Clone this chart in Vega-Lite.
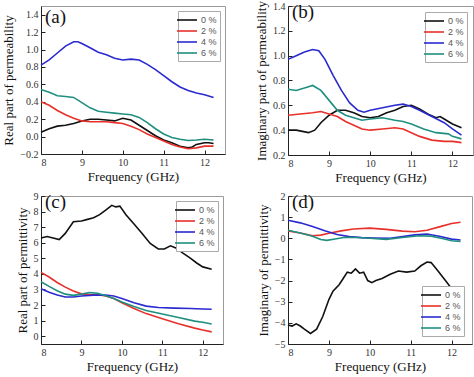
{
  "$schema": "https://vega.github.io/schema/vega-lite/v6.json",
  "padding": {"left": 2, "top": 0, "right": 0, "bottom": 0},
  "background": "white",
  "columns": 2,
  "spacing": {"column": 63, "row": 41},
  "bounds": "flush",
  "config": {
    "view": {"stroke": "#9a9a9a", "strokeWidth": 1},
    "axis": {
      "grid": false,
      "domainColor": "#222",
      "tickColor": "#222",
      "tickSize": -4,
      "labelOverlap": false,
      "labelFont": "Liberation Serif",
      "labelFontSize": 10,
      "labelColor": "#333",
      "labelPadding": 7,
      "titleFont": "Liberation Serif",
      "titleFontSize": 13,
      "titleFontWeight": "normal",
      "titleColor": "#111"
    },
    "axisX": {"titlePadding": 3},
    "axisY": {"titlePadding": 4},
    "title": {"font": "Liberation Serif", "fontSize": 19, "fontWeight": "normal", "color": "#111", "anchor": "start", "orient": "top", "frame": "group", "offset": -21, "dx": 4},
    "legend": {
      "symbolType": "M-2,0H2",
      "symbolSize": 100,
      "symbolStrokeWidth": 1.8,
      "symbolFillColor": "transparent",
      "labelFont": "Liberation Sans",
      "labelFontSize": 9,
      "labelColor": "#555",
      "strokeColor": "#aaaaaa",
      "padding": 3,
      "rowPadding": 0,
      "labelOffset": 8,
      "title": null,
      "fillColor": "white"
    },
    "line": {"strokeWidth": 1.6}
  },
  "resolve": {"scale": {"color": "independent"}, "legend": {"color": "independent"}},
  "datasets": {
    "a": [
      {"f": 8.0, "v": 0.05, "s": "0 %"}, {"f": 8.2, "v": 0.09, "s": "0 %"}, {"f": 8.4, "v": 0.12, "s": "0 %"}, {"f": 8.6, "v": 0.13, "s": "0 %"}, {"f": 8.8, "v": 0.15, "s": "0 %"}, {"f": 9.0, "v": 0.18, "s": "0 %"}, {"f": 9.2, "v": 0.2, "s": "0 %"}, {"f": 9.4, "v": 0.2, "s": "0 %"}, {"f": 9.6, "v": 0.19, "s": "0 %"}, {"f": 9.8, "v": 0.18, "s": "0 %"}, {"f": 10.0, "v": 0.21, "s": "0 %"}, {"f": 10.2, "v": 0.19, "s": "0 %"}, {"f": 10.4, "v": 0.13, "s": "0 %"}, {"f": 10.6, "v": 0.07, "s": "0 %"}, {"f": 10.8, "v": 0.01, "s": "0 %"}, {"f": 11.0, "v": -0.04, "s": "0 %"}, {"f": 11.2, "v": -0.07, "s": "0 %"}, {"f": 11.4, "v": -0.11, "s": "0 %"}, {"f": 11.6, "v": -0.13, "s": "0 %"}, {"f": 11.7, "v": -0.12, "s": "0 %"}, {"f": 11.8, "v": -0.09, "s": "0 %"}, {"f": 12.0, "v": -0.07, "s": "0 %"}, {"f": 12.1, "v": -0.07, "s": "0 %"}, {"f": 12.22, "v": -0.08, "s": "0 %"},
      {"f": 8.0, "v": 0.4, "s": "2 %"}, {"f": 8.2, "v": 0.36, "s": "2 %"}, {"f": 8.4, "v": 0.3, "s": "2 %"}, {"f": 8.6, "v": 0.25, "s": "2 %"}, {"f": 8.8, "v": 0.21, "s": "2 %"}, {"f": 9.0, "v": 0.18, "s": "2 %"}, {"f": 9.2, "v": 0.17, "s": "2 %"}, {"f": 9.4, "v": 0.17, "s": "2 %"}, {"f": 9.6, "v": 0.17, "s": "2 %"}, {"f": 9.8, "v": 0.16, "s": "2 %"}, {"f": 10.0, "v": 0.15, "s": "2 %"}, {"f": 10.2, "v": 0.12, "s": "2 %"}, {"f": 10.4, "v": 0.08, "s": "2 %"}, {"f": 10.6, "v": 0.03, "s": "2 %"}, {"f": 10.8, "v": -0.01, "s": "2 %"}, {"f": 11.0, "v": -0.05, "s": "2 %"}, {"f": 11.2, "v": -0.09, "s": "2 %"}, {"f": 11.4, "v": -0.12, "s": "2 %"}, {"f": 11.6, "v": -0.14, "s": "2 %"}, {"f": 11.8, "v": -0.13, "s": "2 %"}, {"f": 12.0, "v": -0.11, "s": "2 %"}, {"f": 12.22, "v": -0.11, "s": "2 %"},
      {"f": 8.0, "v": 0.82, "s": "4 %"}, {"f": 8.2, "v": 0.88, "s": "4 %"}, {"f": 8.4, "v": 0.96, "s": "4 %"}, {"f": 8.6, "v": 1.04, "s": "4 %"}, {"f": 8.8, "v": 1.09, "s": "4 %"}, {"f": 8.9, "v": 1.09, "s": "4 %"}, {"f": 9.0, "v": 1.07, "s": "4 %"}, {"f": 9.2, "v": 1.02, "s": "4 %"}, {"f": 9.4, "v": 0.97, "s": "4 %"}, {"f": 9.6, "v": 0.94, "s": "4 %"}, {"f": 9.8, "v": 0.9, "s": "4 %"}, {"f": 10.0, "v": 0.88, "s": "4 %"}, {"f": 10.2, "v": 0.89, "s": "4 %"}, {"f": 10.4, "v": 0.88, "s": "4 %"}, {"f": 10.6, "v": 0.83, "s": "4 %"}, {"f": 10.8, "v": 0.77, "s": "4 %"}, {"f": 11.0, "v": 0.7, "s": "4 %"}, {"f": 11.2, "v": 0.63, "s": "4 %"}, {"f": 11.4, "v": 0.57, "s": "4 %"}, {"f": 11.6, "v": 0.53, "s": "4 %"}, {"f": 11.8, "v": 0.5, "s": "4 %"}, {"f": 12.0, "v": 0.48, "s": "4 %"}, {"f": 12.22, "v": 0.45, "s": "4 %"},
      {"f": 8.0, "v": 0.54, "s": "6 %"}, {"f": 8.2, "v": 0.51, "s": "6 %"}, {"f": 8.4, "v": 0.47, "s": "6 %"}, {"f": 8.6, "v": 0.46, "s": "6 %"}, {"f": 8.8, "v": 0.45, "s": "6 %"}, {"f": 9.0, "v": 0.39, "s": "6 %"}, {"f": 9.2, "v": 0.33, "s": "6 %"}, {"f": 9.4, "v": 0.29, "s": "6 %"}, {"f": 9.6, "v": 0.28, "s": "6 %"}, {"f": 9.8, "v": 0.27, "s": "6 %"}, {"f": 10.0, "v": 0.26, "s": "6 %"}, {"f": 10.2, "v": 0.25, "s": "6 %"}, {"f": 10.4, "v": 0.22, "s": "6 %"}, {"f": 10.6, "v": 0.16, "s": "6 %"}, {"f": 10.8, "v": 0.09, "s": "6 %"}, {"f": 11.0, "v": 0.03, "s": "6 %"}, {"f": 11.2, "v": -0.01, "s": "6 %"}, {"f": 11.4, "v": -0.03, "s": "6 %"}, {"f": 11.6, "v": -0.045, "s": "6 %"}, {"f": 11.8, "v": -0.04, "s": "6 %"}, {"f": 12.0, "v": -0.03, "s": "6 %"}, {"f": 12.22, "v": -0.04, "s": "6 %"}
    ],
    "b": [
      {"f": 8.0, "v": 0.4, "s": "0 %"}, {"f": 8.2, "v": 0.4, "s": "0 %"}, {"f": 8.35, "v": 0.39, "s": "0 %"}, {"f": 8.5, "v": 0.38, "s": "0 %"}, {"f": 8.65, "v": 0.4, "s": "0 %"}, {"f": 8.8, "v": 0.46, "s": "0 %"}, {"f": 9.0, "v": 0.52, "s": "0 %"}, {"f": 9.2, "v": 0.56, "s": "0 %"}, {"f": 9.4, "v": 0.56, "s": "0 %"}, {"f": 9.6, "v": 0.54, "s": "0 %"}, {"f": 9.8, "v": 0.51, "s": "0 %"}, {"f": 10.0, "v": 0.5, "s": "0 %"}, {"f": 10.2, "v": 0.51, "s": "0 %"}, {"f": 10.4, "v": 0.54, "s": "0 %"}, {"f": 10.6, "v": 0.56, "s": "0 %"}, {"f": 10.8, "v": 0.59, "s": "0 %"}, {"f": 11.0, "v": 0.6, "s": "0 %"}, {"f": 11.2, "v": 0.57, "s": "0 %"}, {"f": 11.4, "v": 0.53, "s": "0 %"}, {"f": 11.6, "v": 0.5, "s": "0 %"}, {"f": 11.7, "v": 0.51, "s": "0 %"}, {"f": 11.8, "v": 0.49, "s": "0 %"}, {"f": 12.0, "v": 0.45, "s": "0 %"}, {"f": 12.22, "v": 0.42, "s": "0 %"},
      {"f": 8.0, "v": 0.52, "s": "2 %"}, {"f": 8.3, "v": 0.53, "s": "2 %"}, {"f": 8.6, "v": 0.54, "s": "2 %"}, {"f": 8.8, "v": 0.55, "s": "2 %"}, {"f": 9.0, "v": 0.53, "s": "2 %"}, {"f": 9.2, "v": 0.51, "s": "2 %"}, {"f": 9.4, "v": 0.47, "s": "2 %"}, {"f": 9.6, "v": 0.44, "s": "2 %"}, {"f": 9.8, "v": 0.41, "s": "2 %"}, {"f": 10.0, "v": 0.4, "s": "2 %"}, {"f": 10.3, "v": 0.41, "s": "2 %"}, {"f": 10.6, "v": 0.42, "s": "2 %"}, {"f": 10.8, "v": 0.41, "s": "2 %"}, {"f": 11.0, "v": 0.38, "s": "2 %"}, {"f": 11.2, "v": 0.35, "s": "2 %"}, {"f": 11.5, "v": 0.32, "s": "2 %"}, {"f": 11.8, "v": 0.31, "s": "2 %"}, {"f": 12.0, "v": 0.31, "s": "2 %"}, {"f": 12.22, "v": 0.3, "s": "2 %"},
      {"f": 8.0, "v": 0.97, "s": "4 %"}, {"f": 8.2, "v": 1.0, "s": "4 %"}, {"f": 8.4, "v": 1.03, "s": "4 %"}, {"f": 8.6, "v": 1.05, "s": "4 %"}, {"f": 8.75, "v": 1.04, "s": "4 %"}, {"f": 8.9, "v": 0.97, "s": "4 %"}, {"f": 9.1, "v": 0.84, "s": "4 %"}, {"f": 9.3, "v": 0.72, "s": "4 %"}, {"f": 9.5, "v": 0.62, "s": "4 %"}, {"f": 9.7, "v": 0.56, "s": "4 %"}, {"f": 9.85, "v": 0.545, "s": "4 %"}, {"f": 10.0, "v": 0.56, "s": "4 %"}, {"f": 10.3, "v": 0.58, "s": "4 %"}, {"f": 10.6, "v": 0.6, "s": "4 %"}, {"f": 10.8, "v": 0.61, "s": "4 %"}, {"f": 11.0, "v": 0.59, "s": "4 %"}, {"f": 11.2, "v": 0.56, "s": "4 %"}, {"f": 11.5, "v": 0.51, "s": "4 %"}, {"f": 11.8, "v": 0.46, "s": "4 %"}, {"f": 12.0, "v": 0.41, "s": "4 %"}, {"f": 12.22, "v": 0.36, "s": "4 %"},
      {"f": 8.0, "v": 0.73, "s": "6 %"}, {"f": 8.2, "v": 0.72, "s": "6 %"}, {"f": 8.4, "v": 0.74, "s": "6 %"}, {"f": 8.6, "v": 0.76, "s": "6 %"}, {"f": 8.8, "v": 0.72, "s": "6 %"}, {"f": 9.0, "v": 0.64, "s": "6 %"}, {"f": 9.2, "v": 0.56, "s": "6 %"}, {"f": 9.4, "v": 0.52, "s": "6 %"}, {"f": 9.6, "v": 0.5, "s": "6 %"}, {"f": 9.8, "v": 0.48, "s": "6 %"}, {"f": 10.0, "v": 0.49, "s": "6 %"}, {"f": 10.3, "v": 0.5, "s": "6 %"}, {"f": 10.6, "v": 0.48, "s": "6 %"}, {"f": 10.8, "v": 0.47, "s": "6 %"}, {"f": 11.0, "v": 0.45, "s": "6 %"}, {"f": 11.3, "v": 0.41, "s": "6 %"}, {"f": 11.6, "v": 0.38, "s": "6 %"}, {"f": 11.9, "v": 0.37, "s": "6 %"}, {"f": 12.0, "v": 0.35, "s": "6 %"}, {"f": 12.22, "v": 0.33, "s": "6 %"}
    ],
    "c": [
      {"f": 8.0, "v": 6.3, "s": "0 %"}, {"f": 8.15, "v": 6.4, "s": "0 %"}, {"f": 8.3, "v": 6.3, "s": "0 %"}, {"f": 8.45, "v": 6.2, "s": "0 %"}, {"f": 8.6, "v": 6.6, "s": "0 %"}, {"f": 8.8, "v": 7.35, "s": "0 %"}, {"f": 9.0, "v": 7.4, "s": "0 %"}, {"f": 9.15, "v": 7.5, "s": "0 %"}, {"f": 9.3, "v": 7.6, "s": "0 %"}, {"f": 9.45, "v": 7.8, "s": "0 %"}, {"f": 9.6, "v": 8.1, "s": "0 %"}, {"f": 9.75, "v": 8.4, "s": "0 %"}, {"f": 9.85, "v": 8.3, "s": "0 %"}, {"f": 9.95, "v": 8.35, "s": "0 %"}, {"f": 10.1, "v": 7.8, "s": "0 %"}, {"f": 10.3, "v": 7.2, "s": "0 %"}, {"f": 10.5, "v": 6.6, "s": "0 %"}, {"f": 10.7, "v": 5.95, "s": "0 %"}, {"f": 10.9, "v": 5.6, "s": "0 %"}, {"f": 11.05, "v": 5.6, "s": "0 %"}, {"f": 11.2, "v": 5.8, "s": "0 %"}, {"f": 11.35, "v": 5.65, "s": "0 %"}, {"f": 11.5, "v": 5.35, "s": "0 %"}, {"f": 11.7, "v": 5.0, "s": "0 %"}, {"f": 11.85, "v": 4.7, "s": "0 %"}, {"f": 12.0, "v": 4.45, "s": "0 %"}, {"f": 12.22, "v": 4.3, "s": "0 %"},
      {"f": 8.0, "v": 4.1, "s": "2 %"}, {"f": 8.2, "v": 3.8, "s": "2 %"}, {"f": 8.4, "v": 3.45, "s": "2 %"}, {"f": 8.6, "v": 3.15, "s": "2 %"}, {"f": 8.8, "v": 2.9, "s": "2 %"}, {"f": 9.0, "v": 2.72, "s": "2 %"}, {"f": 9.2, "v": 2.68, "s": "2 %"}, {"f": 9.4, "v": 2.66, "s": "2 %"}, {"f": 9.6, "v": 2.58, "s": "2 %"}, {"f": 9.8, "v": 2.42, "s": "2 %"}, {"f": 10.0, "v": 2.15, "s": "2 %"}, {"f": 10.3, "v": 1.78, "s": "2 %"}, {"f": 10.6, "v": 1.45, "s": "2 %"}, {"f": 11.0, "v": 1.12, "s": "2 %"}, {"f": 11.4, "v": 0.8, "s": "2 %"}, {"f": 11.8, "v": 0.52, "s": "2 %"}, {"f": 12.0, "v": 0.4, "s": "2 %"}, {"f": 12.22, "v": 0.28, "s": "2 %"},
      {"f": 8.0, "v": 3.05, "s": "4 %"}, {"f": 8.2, "v": 2.82, "s": "4 %"}, {"f": 8.4, "v": 2.65, "s": "4 %"}, {"f": 8.6, "v": 2.52, "s": "4 %"}, {"f": 8.8, "v": 2.52, "s": "4 %"}, {"f": 9.0, "v": 2.58, "s": "4 %"}, {"f": 9.3, "v": 2.64, "s": "4 %"}, {"f": 9.6, "v": 2.65, "s": "4 %"}, {"f": 9.8, "v": 2.58, "s": "4 %"}, {"f": 10.0, "v": 2.42, "s": "4 %"}, {"f": 10.3, "v": 2.15, "s": "4 %"}, {"f": 10.6, "v": 1.93, "s": "4 %"}, {"f": 10.9, "v": 1.84, "s": "4 %"}, {"f": 11.3, "v": 1.8, "s": "4 %"}, {"f": 11.7, "v": 1.78, "s": "4 %"}, {"f": 12.0, "v": 1.75, "s": "4 %"}, {"f": 12.22, "v": 1.73, "s": "4 %"},
      {"f": 8.0, "v": 3.5, "s": "6 %"}, {"f": 8.2, "v": 3.2, "s": "6 %"}, {"f": 8.4, "v": 2.92, "s": "6 %"}, {"f": 8.6, "v": 2.7, "s": "6 %"}, {"f": 8.8, "v": 2.62, "s": "6 %"}, {"f": 9.0, "v": 2.7, "s": "6 %"}, {"f": 9.2, "v": 2.8, "s": "6 %"}, {"f": 9.4, "v": 2.76, "s": "6 %"}, {"f": 9.6, "v": 2.6, "s": "6 %"}, {"f": 9.8, "v": 2.42, "s": "6 %"}, {"f": 10.0, "v": 2.2, "s": "6 %"}, {"f": 10.3, "v": 1.9, "s": "6 %"}, {"f": 10.6, "v": 1.65, "s": "6 %"}, {"f": 11.0, "v": 1.42, "s": "6 %"}, {"f": 11.4, "v": 1.2, "s": "6 %"}, {"f": 11.8, "v": 0.97, "s": "6 %"}, {"f": 12.0, "v": 0.9, "s": "6 %"}, {"f": 12.22, "v": 0.78, "s": "6 %"}
    ],
    "d": [
      {"f": 8.0, "v": -4.1, "s": "0 %"}, {"f": 8.1, "v": -4.15, "s": "0 %"}, {"f": 8.2, "v": -4.05, "s": "0 %"}, {"f": 8.3, "v": -4.15, "s": "0 %"}, {"f": 8.4, "v": -4.3, "s": "0 %"}, {"f": 8.55, "v": -4.5, "s": "0 %"}, {"f": 8.7, "v": -4.3, "s": "0 %"}, {"f": 8.85, "v": -3.7, "s": "0 %"}, {"f": 9.0, "v": -2.9, "s": "0 %"}, {"f": 9.1, "v": -2.5, "s": "0 %"}, {"f": 9.25, "v": -2.2, "s": "0 %"}, {"f": 9.35, "v": -1.9, "s": "0 %"}, {"f": 9.45, "v": -1.6, "s": "0 %"}, {"f": 9.55, "v": -1.65, "s": "0 %"}, {"f": 9.65, "v": -1.45, "s": "0 %"}, {"f": 9.75, "v": -1.65, "s": "0 %"}, {"f": 9.85, "v": -1.6, "s": "0 %"}, {"f": 9.95, "v": -2.0, "s": "0 %"}, {"f": 10.05, "v": -2.1, "s": "0 %"}, {"f": 10.15, "v": -2.0, "s": "0 %"}, {"f": 10.3, "v": -1.9, "s": "0 %"}, {"f": 10.5, "v": -1.7, "s": "0 %"}, {"f": 10.7, "v": -1.55, "s": "0 %"}, {"f": 10.9, "v": -1.6, "s": "0 %"}, {"f": 11.1, "v": -1.55, "s": "0 %"}, {"f": 11.25, "v": -1.3, "s": "0 %"}, {"f": 11.4, "v": -1.12, "s": "0 %"}, {"f": 11.5, "v": -1.15, "s": "0 %"}, {"f": 11.65, "v": -1.5, "s": "0 %"}, {"f": 11.85, "v": -2.0, "s": "0 %"}, {"f": 12.05, "v": -2.5, "s": "0 %"}, {"f": 12.22, "v": -2.82, "s": "0 %"},
      {"f": 8.0, "v": 0.35, "s": "2 %"}, {"f": 8.3, "v": 0.25, "s": "2 %"}, {"f": 8.6, "v": 0.12, "s": "2 %"}, {"f": 8.8, "v": 0.15, "s": "2 %"}, {"f": 9.0, "v": 0.24, "s": "2 %"}, {"f": 9.3, "v": 0.35, "s": "2 %"}, {"f": 9.6, "v": 0.44, "s": "2 %"}, {"f": 10.0, "v": 0.48, "s": "2 %"}, {"f": 10.4, "v": 0.42, "s": "2 %"}, {"f": 10.8, "v": 0.34, "s": "2 %"}, {"f": 11.1, "v": 0.31, "s": "2 %"}, {"f": 11.4, "v": 0.38, "s": "2 %"}, {"f": 11.7, "v": 0.54, "s": "2 %"}, {"f": 12.0, "v": 0.7, "s": "2 %"}, {"f": 12.22, "v": 0.76, "s": "2 %"},
      {"f": 8.0, "v": 0.85, "s": "4 %"}, {"f": 8.3, "v": 0.73, "s": "4 %"}, {"f": 8.6, "v": 0.56, "s": "4 %"}, {"f": 8.9, "v": 0.36, "s": "4 %"}, {"f": 9.2, "v": 0.18, "s": "4 %"}, {"f": 9.5, "v": 0.08, "s": "4 %"}, {"f": 9.8, "v": 0.03, "s": "4 %"}, {"f": 10.1, "v": 0.01, "s": "4 %"}, {"f": 10.5, "v": 0.0, "s": "4 %"}, {"f": 10.8, "v": 0.08, "s": "4 %"}, {"f": 11.1, "v": 0.16, "s": "4 %"}, {"f": 11.4, "v": 0.2, "s": "4 %"}, {"f": 11.7, "v": 0.1, "s": "4 %"}, {"f": 12.0, "v": -0.04, "s": "4 %"}, {"f": 12.22, "v": -0.08, "s": "4 %"},
      {"f": 8.0, "v": 0.38, "s": "6 %"}, {"f": 8.3, "v": 0.25, "s": "6 %"}, {"f": 8.6, "v": 0.1, "s": "6 %"}, {"f": 8.8, "v": -0.06, "s": "6 %"}, {"f": 8.95, "v": -0.1, "s": "6 %"}, {"f": 9.15, "v": -0.03, "s": "6 %"}, {"f": 9.4, "v": 0.05, "s": "6 %"}, {"f": 9.7, "v": 0.04, "s": "6 %"}, {"f": 10.0, "v": 0.0, "s": "6 %"}, {"f": 10.4, "v": -0.05, "s": "6 %"}, {"f": 10.8, "v": 0.04, "s": "6 %"}, {"f": 11.2, "v": 0.12, "s": "6 %"}, {"f": 11.5, "v": 0.1, "s": "6 %"}, {"f": 11.8, "v": -0.02, "s": "6 %"}, {"f": 12.0, "v": -0.12, "s": "6 %"}, {"f": 12.22, "v": -0.15, "s": "6 %"}
    ]
  },
  "concat": [
    {
      "width": 184, "height": 148,
      "title": "(a)",
      "data": {"name": "a"},
      "mark": {"type": "line"},
      "encoding": {
        "x": {"field": "f", "type": "quantitative", "scale": {"domain": [8, 12.5], "nice": false, "zero": false}, "axis": {"values": [8, 9, 10, 11, 12], "title": "Frequency (GHz)"}},
        "y": {"field": "v", "type": "quantitative", "scale": {"domain": [-0.2, 1.5], "nice": false, "zero": false}, "axis": {"values": [-0.2, 0, 0.2, 0.4, 0.6, 0.8, 1.0, 1.2, 1.4], "format": ".1f", "title": "Real part of permeability"}},
        "color": {"field": "s", "type": "nominal", "scale": {"domain": ["0 %", "2 %", "4 %", "6 %"], "range": ["#111111", "#e8302a", "#2a2ad0", "#1f8f80"]}, "legend": {"orient": "top-right", "offset": 5}}
      }
    },
    {
      "width": 185, "height": 149,
      "title": "(b)",
      "data": {"name": "b"},
      "mark": {"type": "line"},
      "encoding": {
        "x": {"field": "f", "type": "quantitative", "scale": {"domain": [8, 12.5], "nice": false, "zero": false}, "axis": {"values": [8, 9, 10, 11, 12], "title": "Frequency (GHz)"}},
        "y": {"field": "v", "type": "quantitative", "scale": {"domain": [0.2, 1.4], "nice": false, "zero": false}, "axis": {"values": [0.2, 0.4, 0.6, 0.8, 1.0, 1.2, 1.4], "format": ".1f", "title": "Imaginary part of permeability"}},
        "color": {"field": "s", "type": "nominal", "scale": {"domain": ["0 %", "2 %", "4 %", "6 %"], "range": ["#111111", "#e8302a", "#2a2ad0", "#1f8f80"]}, "legend": {"orient": "top-right", "offset": 6}}
      }
    },
    {
      "width": 182, "height": 148,
      "title": "(c)",
      "data": {"name": "c"},
      "mark": {"type": "line"},
      "encoding": {
        "x": {"field": "f", "type": "quantitative", "scale": {"domain": [8, 12.5], "nice": false, "zero": false}, "axis": {"values": [8, 9, 10, 11, 12], "title": "Frequency (GHz)"}},
        "y": {"field": "v", "type": "quantitative", "scale": {"domain": [-0.5, 9], "nice": false, "zero": false}, "axis": {"values": [0, 1, 2, 3, 4, 5, 6, 7, 8, 9], "title": "Real part of permittivity"}},
        "color": {"field": "s", "type": "nominal", "scale": {"domain": ["0 %", "2 %", "4 %", "6 %"], "range": ["#111111", "#e8302a", "#2a2ad0", "#1f8f80"]}, "legend": {"orient": "top-right", "offset": 5}}
      }
    },
    {
      "width": 184, "height": 148,
      "title": "(d)",
      "data": {"name": "d"},
      "mark": {"type": "line"},
      "encoding": {
        "x": {"field": "f", "type": "quantitative", "scale": {"domain": [8, 12.5], "nice": false, "zero": false}, "axis": {"values": [8, 9, 10, 11, 12], "title": "Frequency (GHz)"}},
        "y": {"field": "v", "type": "quantitative", "scale": {"domain": [-5, 2], "nice": false, "zero": false}, "axis": {"values": [-5, -4, -3, -2, -1, 0, 1, 2], "title": "Imaginary of permittivity"}},
        "color": {"field": "s", "type": "nominal", "scale": {"domain": ["0 %", "2 %", "4 %", "6 %"], "range": ["#111111", "#e8302a", "#2a2ad0", "#1f8f80"]}, "legend": {"orient": "bottom-right", "offset": 8}}
      }
    }
  ]
}
